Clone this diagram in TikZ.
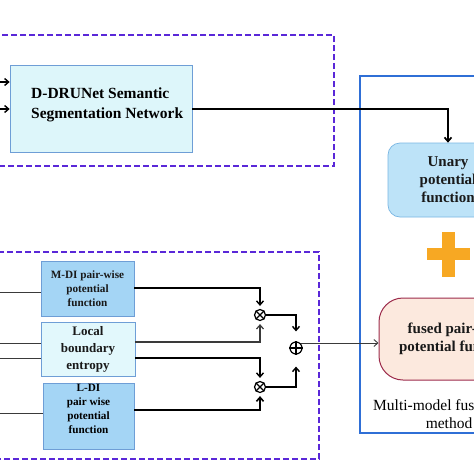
\documentclass[tikz,border=0pt]{standalone}
\usepackage{fontspec}
\setmainfont{Liberation Serif}
\usetikzlibrary{arrows.meta,calc}
\definecolor{dashpurple}{HTML}{5A28D8}
\definecolor{frameblue}{HTML}{2F6FD6}
\definecolor{ddfill}{HTML}{DDF6FA}
\definecolor{boxborder}{HTML}{6E9ED6}
\definecolor{mdifill}{HTML}{A4D5F5}
\definecolor{localfill}{HTML}{E2F8FC}
\definecolor{unaryfill}{HTML}{BDE3F8}
\definecolor{unaryborder}{HTML}{79B6E3}
\definecolor{fusedfill}{HTML}{FCE9DE}
\definecolor{fusedborder}{HTML}{9C2B4B}
\definecolor{plusorange}{HTML}{F7A823}
\definecolor{lgray}{HTML}{3A3A3A}
\begin{document}
\begin{tikzpicture}[x=1pt,y=-1pt,
  dashbox/.style={draw=dashpurple,line width=1.6pt,dash pattern=on 6pt off 3pt},
  box/.style={draw=boxborder,line width=0.7pt,inner sep=0pt,align=center,text=black!90},
  arr/.style={line width=1.4pt,-{Straight Barb[length=4pt,width=7pt]}},
  thinarr/.style={line width=0.9pt,draw=lgray,-{Straight Barb[length=4pt,width=7pt]}},
  wire/.style={line width=1.4pt},
  gwire/.style={line width=1pt,draw=lgray},
  opnode/.style={circle,draw,line width=1.2pt,minimum size=11pt,inner sep=0pt},
  bigfont/.style={font=\fontsize{15.5}{20}\selectfont\bfseries},
  midfont/.style={font=\fontsize{15}{18}\selectfont\bfseries},
  smallfont/.style={font=\fontsize{11.2}{14}\selectfont\bfseries},
  locfont/.style={font=\fontsize{13}{17}\selectfont\bfseries}
]
\useasboundingbox (0,0) rectangle (474,474);
\clip (0,0) rectangle (474,474);
\fill[white] (0,0) rectangle (474,474);

% dashed group boxes
\draw[dashbox] (-5,35) rectangle (334,166);
\draw[dashbox] (-5,252) rectangle (319,459);

% blue frame
\draw[frameblue,line width=1.4pt] (360,76) rectangle (500,433);

% D-DRUNet box
\node[box,fill=ddfill,minimum width=182pt,minimum height=87pt] (dd) at (101,108.5) {};
\node[bigfont,align=left,inner sep=0pt,anchor=west] (ddt) at (31,105) {D-DRUNet Semantic\\Segmentation Network};

\coordinate (in1) at (-2,82);
\coordinate (in2) at (-2,109);
\draw[arr] (in1) -- (in1 -| dd.west);
\draw[arr] (in2) -- (in2 -| dd.west);

% unary
\node[box,draw=unaryborder,fill=unaryfill,rounded corners=12pt,minimum width=120pt,minimum height=74pt,midfont] (unary) at (448,180) {Unary\\potential\\function};
\coordinate (ddout) at (192,109);
\draw[wire,line width=1.7pt,-{Straight Barb[length=4pt,width=7pt]}] (ddout) -| (unary.north);

% orange plus
\fill[plusorange] (442,232) rectangle (455,277);
\fill[plusorange] (427,248) rectangle (470,260);

% fused
\node[box,draw=fusedborder,line width=1pt,fill=fusedfill,rounded corners=24pt,minimum width=154pt,minimum height=82pt,midfont] (fused) at (456,339) {fused pair-wise\\potential function};

% caption
\node[font=\fontsize{15.5}{18}\selectfont,anchor=west,inner sep=0pt] (cap1) at (373,405) {Multi-model fusion};
\node[font=\fontsize{15.5}{18}\selectfont,inner sep=0pt] (cap2) at (449,423) {method};

% bottom boxes
\node[box,fill=mdifill,minimum width=93pt,minimum height=55pt,smallfont] (mdi) at (87.5,288.5) {M-DI pair-wise\\potential\\function};
\node[box,fill=localfill,minimum width=94pt,minimum height=54pt,locfont] (loc) at (88,349) {Local\\boundary\\entropy};
\node[box,fill=mdifill,minimum width=91pt,minimum height=66pt] (ldi) at (88.5,416) {};
\node[smallfont,align=center,inner sep=0pt] (ldit) at (88.5,409) {L-DI\\pair wise\\potential\\function};

% left wires
\coordinate (w1) at (-2,292);
\coordinate (w2) at (-2,343);
\coordinate (w3) at (-2,358);
\coordinate (w4) at (-2,413);
\draw[gwire] (w1) -- (w1 -| mdi.west);
\draw[gwire] (w2) -- (w2 -| loc.west);
\draw[gwire] (w3) -- (w3 -| loc.west);
\draw[gwire] (w4) -- (w4 -| ldi.west);

% operators
\node[opnode] (o1) at (260,315) {};
\draw[line width=1.1pt] (o1.north west) -- (o1.south east) (o1.north east) -- (o1.south west);
\node[opnode] (o2) at (260,387) {};
\draw[line width=1.1pt] (o2.north west) -- (o2.south east) (o2.north east) -- (o2.south west);
\node[opnode,minimum size=12pt] (op) at (296,348) {};
\draw[line width=1.1pt] (op.north) -- (op.south) (op.west) -- (op.east);

% right wires
\coordinate (r1) at (134,288);
\coordinate (r2) at (135,342);
\coordinate (r3) at (135,358);
\coordinate (r4) at (134,410);
\draw[arr,shorten >=3pt] (r1) -| (o1.north);
\draw[arr,line width=1.2pt,draw=lgray,shorten >=3pt] (r2) -| (o1.south);
\draw[arr,shorten >=3pt] (r3) -| (o2.north);
\draw[arr,line width=1.6pt,shorten >=3pt] (r4) -| (o2.south);
\draw[arr,shorten >=10pt] (o1.east) -| (op.north);
\draw[arr,shorten >=12pt] (o2.east) -| (op.south);

% to fused
\coordinate (opout) at (301,343);
\draw[thinarr] (opout) -- (opout -| fused.west);
\end{tikzpicture}
\end{document}
